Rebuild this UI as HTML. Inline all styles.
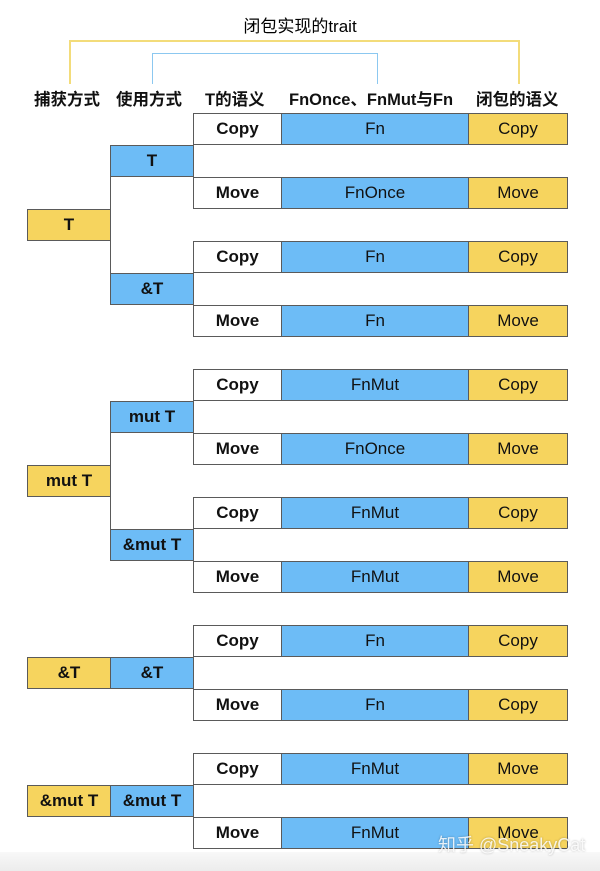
<!DOCTYPE html><html><head><meta charset="utf-8"><style>
body{margin:0;width:600px;height:871px;background:#fff;position:relative;overflow:hidden;font-family:"Liberation Sans","Noto Sans CJK SC",sans-serif}
.b{position:absolute;height:32px;box-sizing:border-box;border:1px solid #5a5a5a;display:flex;align-items:center;justify-content:center;font-size:17px;color:#111}
.w{background:#fff;font-weight:bold}.u{background:#6dbcf6}.y{background:#f6d45e}.bd{font-weight:bold}
.v{position:absolute;width:1px;background:#5a5a5a}
.h{position:absolute;font-weight:bold;font-size:16.5px;top:86px;color:#111}
</style></head><body>
<div style="position:absolute;top:12px;left:0;width:600px;text-align:center;font-size:17px">闭包实现的trait</div>
<div style="position:absolute;left:69px;top:40px;width:451px;height:44px;border:2px solid #f3dc7a;border-bottom:none;box-sizing:border-box"></div>
<div style="position:absolute;left:152px;top:53px;width:226px;height:31px;border:1.5px solid #8cc8f0;border-bottom:none;box-sizing:border-box"></div>
<div class="h" style="left:34px">捕获方式</div><div class="h" style="left:116px">使用方式</div><div class="h" style="left:205px">T的语义</div><div class="h" style="left:289px">FnOnce、FnMut与Fn</div><div class="h" style="left:476px">闭包的语义</div>

<!-- group1 -->
<div class="v" style="left:193px;top:113px;height:96px"></div><div class="v" style="left:193px;top:241px;height:96px"></div><div class="v" style="left:110px;top:177px;height:96px"></div>
<div class="b w" style="left:193px;top:113px;width:89px">Copy</div><div class="b u" style="left:281px;top:113px;width:188px">Fn</div><div class="b y" style="left:468px;top:113px;width:100px">Copy</div>
<div class="b u bd" style="left:110px;top:145px;width:84px">T</div>
<div class="b w" style="left:193px;top:177px;width:89px">Move</div><div class="b u" style="left:281px;top:177px;width:188px">FnOnce</div><div class="b y" style="left:468px;top:177px;width:100px">Move</div>
<div class="b y bd" style="left:27px;top:209px;width:84px">T</div>
<div class="b w" style="left:193px;top:241px;width:89px">Copy</div><div class="b u" style="left:281px;top:241px;width:188px">Fn</div><div class="b y" style="left:468px;top:241px;width:100px">Copy</div>
<div class="b u bd" style="left:110px;top:273px;width:84px">&amp;T</div>
<div class="b w" style="left:193px;top:305px;width:89px">Move</div><div class="b u" style="left:281px;top:305px;width:188px">Fn</div><div class="b y" style="left:468px;top:305px;width:100px">Move</div>

<!-- group2 -->
<div class="v" style="left:193px;top:369px;height:96px"></div><div class="v" style="left:193px;top:497px;height:96px"></div><div class="v" style="left:110px;top:433px;height:96px"></div>
<div class="b w" style="left:193px;top:369px;width:89px">Copy</div><div class="b u" style="left:281px;top:369px;width:188px">FnMut</div><div class="b y" style="left:468px;top:369px;width:100px">Copy</div>
<div class="b u bd" style="left:110px;top:401px;width:84px">mut T</div>
<div class="b w" style="left:193px;top:433px;width:89px">Move</div><div class="b u" style="left:281px;top:433px;width:188px">FnOnce</div><div class="b y" style="left:468px;top:433px;width:100px">Move</div>
<div class="b y bd" style="left:27px;top:465px;width:84px">mut T</div>
<div class="b w" style="left:193px;top:497px;width:89px">Copy</div><div class="b u" style="left:281px;top:497px;width:188px">FnMut</div><div class="b y" style="left:468px;top:497px;width:100px">Copy</div>
<div class="b u bd" style="left:110px;top:529px;width:84px">&amp;mut T</div>
<div class="b w" style="left:193px;top:561px;width:89px">Move</div><div class="b u" style="left:281px;top:561px;width:188px">FnMut</div><div class="b y" style="left:468px;top:561px;width:100px">Move</div>

<!-- group3 -->
<div class="v" style="left:193px;top:625px;height:96px"></div>
<div class="b w" style="left:193px;top:625px;width:89px">Copy</div><div class="b u" style="left:281px;top:625px;width:188px">Fn</div><div class="b y" style="left:468px;top:625px;width:100px">Copy</div>
<div class="b y bd" style="left:27px;top:657px;width:84px">&amp;T</div><div class="b u bd" style="left:110px;top:657px;width:84px">&amp;T</div>
<div class="b w" style="left:193px;top:689px;width:89px">Move</div><div class="b u" style="left:281px;top:689px;width:188px">Fn</div><div class="b y" style="left:468px;top:689px;width:100px">Copy</div>

<!-- group4 -->
<div class="v" style="left:193px;top:753px;height:96px"></div>
<div class="b w" style="left:193px;top:753px;width:89px">Copy</div><div class="b u" style="left:281px;top:753px;width:188px">FnMut</div><div class="b y" style="left:468px;top:753px;width:100px">Move</div>
<div class="b y bd" style="left:27px;top:785px;width:84px">&amp;mut T</div><div class="b u bd" style="left:110px;top:785px;width:84px">&amp;mut T</div>
<div class="b w" style="left:193px;top:817px;width:89px">Move</div><div class="b u" style="left:281px;top:817px;width:188px">FnMut</div><div class="b y" style="left:468px;top:817px;width:100px">Move</div>

<div style="position:absolute;left:0;top:852px;width:600px;height:19px;background:linear-gradient(#f8f8f8,#ececec)"></div>
<div style="position:absolute;left:438px;top:831px;font-size:18px;color:rgba(255,255,255,0.85);text-shadow:0 0 2px rgba(0,0,0,0.3)">知乎 @SneakyCat</div>
</body></html>
